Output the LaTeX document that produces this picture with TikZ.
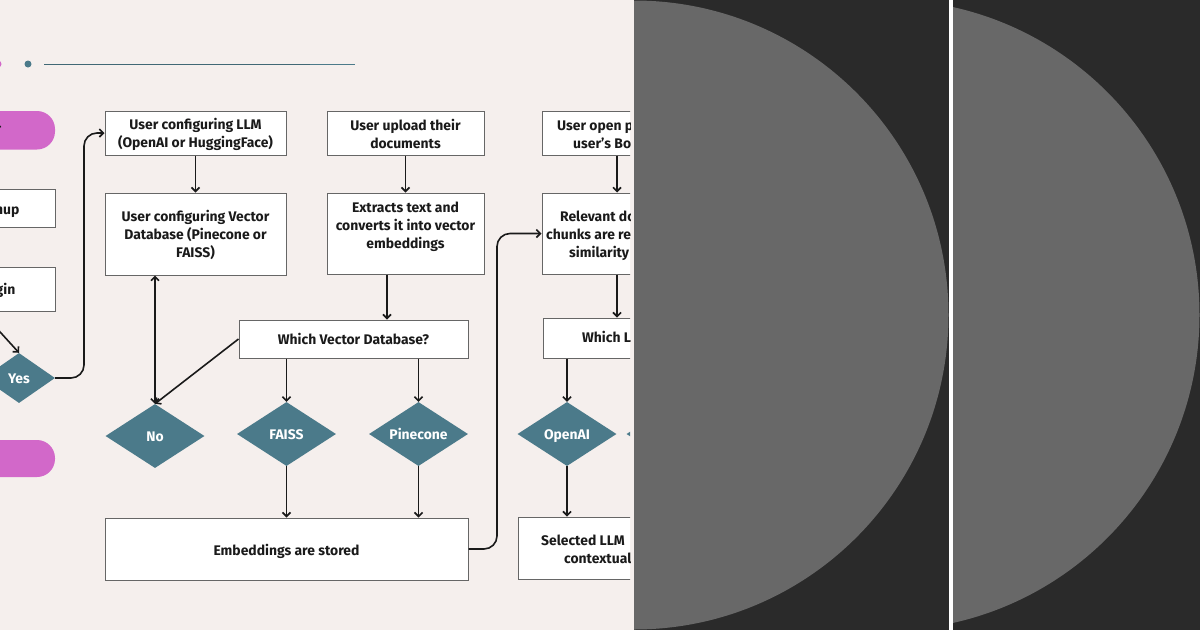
\documentclass[tikz,border=0pt]{standalone}
\usepackage{fontspec}
\setmainfont{Fira Sans}
\usetikzlibrary{arrows.meta,shapes.geometric}
\definecolor{paper}{HTML}{F5EFED}
\definecolor{tealbox}{HTML}{4B7A8A}
\definecolor{pinkbox}{HTML}{D268C9}
\definecolor{panel}{HTML}{2A2A2A}
\definecolor{disc}{HTML}{686868}
\definecolor{ink}{HTML}{1A1A1A}
\tikzset{
	flowbox/.style={draw=black!60,fill=white,line width=1pt,inner sep=0pt,align=center,text=ink,font=\fontsize{13.9}{18}\selectfont\bfseries},
	flowtext/.style={inner sep=0pt,anchor=base west,text=ink,align=center,font=\fontsize{13.9}{18}\selectfont\bfseries},
	choice/.style={diamond,fill=tealbox,text=white,inner sep=0pt,shape aspect=1.55,minimum width=99pt,minimum height=64pt,text height=11.2pt,text depth=0pt,font=\fontsize{13.9}{18}\selectfont\bfseries},
	pill/.style={fill=pinkbox,rounded corners=18pt},
	flow/.style={draw=ink,line width=1.6pt,-{Straight Barb[length=4pt,width=8pt]}},
}

\begin{document}
\begin{tikzpicture}[x=1pt,y=-1pt]
		%%%%% BACKGROUND %%%%%
		\useasboundingbox (0, 0) rectangle (1200, 630);
		\fill[paper] (0, 0) rectangle (634, 630);
		\fill[white] (634, 0) rectangle (1200, 630);
		\fill[panel] (634, 0) rectangle (949, 630);
		\fill[panel] (953, 0) rectangle (1200, 630);
		\begin{scope}
			\clip (634, 0) rectangle (949, 630);
			\fill[disc] (634, 315) circle [radius=314.5];
		\end{scope}
		\begin{scope}
			\clip (953, 0) rectangle (1200, 630);
			\fill[disc] (884, 315) circle [radius=315.5];
		\end{scope}

		\begin{scope}
		\clip (0, 0) rectangle (630, 630);
		%%%%% HEADER %%%%%
		\fill[pinkbox] (-2, 64) circle (3.5);
		\fill[tealbox] (28, 64) circle (3.5);
		\draw[tealbox,line width=1pt] (44, 64.5) -- (355, 64.5);
		\draw[tealbox!85!black,line width=1.6pt] (44, 64.5) -- (310, 64.5);

		%%%%% LEFT COLUMN %%%%%
		\fill[pill] (-100, 111) rectangle (55, 149.5);
		\fill[pill] (-100, 440) rectangle (55, 477);
		\node[flowtext] (pilltxt) at (-4, 131) {-};
		\node[flowbox,minimum width=155pt,minimum height=38pt] (signup) at (-22.5, 208.5) {};
		\node[flowbox,minimum width=155pt,minimum height=44pt] (login) at (-22.5, 289) {};
		\node[flowtext,anchor=base east] (signuptxt) at (19.5, 214) {nup};
		\node[flowtext,anchor=base east] (logintxt) at (15.5, 294) {gin};
		\node[choice,minimum width=72pt,minimum height=50pt] (yes) at (19, 378) {Yes};
		\coordinate (intoyes) at (-19, 311);
		\coordinate (yesjog) at (84, 300);

		%%%%% MIDDLE BOXES %%%%%
		\node[flowbox,minimum width=181pt,minimum height=44pt] (llm) at (195.5, 133) {};
		\node[flowtext,anchor=center] (llmtxt) at (195.5, 134.7) {User configuring LLM\\(OpenAI or HuggingFace)};
		\node[flowbox,minimum width=181pt,minimum height=82pt] (vecdb) at (195.5, 234) {};
		\node[flowtext,anchor=center] (vecdbtxt) at (195.5, 234.8) {User configuring Vector\\Database (Pinecone or\\FAISS)};
		\node[flowbox,minimum width=157pt,minimum height=44pt] (upload) at (405.5, 133) {};
		\node[flowtext,anchor=center] (uploadtxt) at (405.5, 133.8) {User upload their\\documents};
		\node[flowbox,minimum width=157pt,minimum height=81pt] (extract) at (405.5, 233.5) {};
		\node[flowtext,anchor=center] (extracttxt) at (405.5, 226.3) {Extracts text and\\converts it into vector\\embeddings};
		\node[flowbox,minimum width=229pt,minimum height=38pt] (whichvec) at (353.5, 339) {Which Vector Database?};
		\node[choice] (nochoice) at (155, 436) {No};
		\node[choice] (faiss) at (286.5, 434) {FAISS};
		\node[choice] (pinecone) at (418.5, 434) {Pinecone};
		\node[flowbox,minimum width=363pt,minimum height=62pt] (stored) at (286.5, 549) {};
		\node[flowtext,anchor=base] (storedtxt) at (286.5, 555.2) {Embeddings are stored};
		\coordinate (dropvec) at (387, 300);
		\coordinate (storedjog) at (497, 400);

		%%%%% RIGHT BOXES %%%%%
		\node[flowbox,minimum width=150pt,minimum height=44pt] (openbot) at (617, 133) {};
		\node[flowbox,minimum width=150pt,minimum height=81pt] (relevant) at (617, 233.5) {};
		\node[flowbox,minimum width=148pt,minimum height=40pt] (whichllm) at (617, 338) {};
		\node[choice] (openai) at (567, 434) {OpenAI};
		\node[choice] (nextllm) at (676, 434) {};
		\node[flowbox,minimum width=198pt,minimum height=62pt] (selected) at (617, 548) {};
		\node[flowtext] (opena) at (557, 130) {User open p};
		\node[flowtext] (openb) at (573, 148) {user’s Bo};
		\node[flowtext] (relevanta) at (560, 221.5) {Relevant do};
		\node[flowtext] (relevantb) at (546, 239.5) {chunks are re};
		\node[flowtext] (relevantc) at (569, 257.5) {similarity};
		\node[flowtext] (whichtxt) at (582, 342.5) {Which L};
		\node[flowtext] (selecteda) at (541, 545) {Selected LLM};
		\node[flowtext] (selectedb) at (564, 563) {contextual};

		%%%%% ARROWS %%%%%
		\draw[flow] (intoyes) -- (yes.north);
		\draw[flow,rounded corners=13pt] (yes.east) -- (yes.east -| yesjog) -- (llm.west -| yesjog) -- (llm.west);
		\draw[flow] (llm) -- (vecdb);
		\draw[flow] (upload) -- (extract);
		\draw[flow] (extract.south -| dropvec) -- (whichvec.north -| dropvec);
		\draw[flow] (whichvec.west) -- (nochoice.north);
		\draw[flow,{Straight Barb[length=4pt,width=8pt]}-{Straight Barb[length=4pt,width=8pt]}] (vecdb.south -| nochoice) -- (nochoice.north);
		\draw[flow] (whichvec.south -| faiss) -- (faiss.north);
		\draw[flow] (whichvec.south -| pinecone) -- (pinecone.north);
		\draw[flow] (faiss.south) -- (stored.north -| faiss);
		\draw[flow] (pinecone.south) -- (stored.north -| pinecone);
		\draw[flow,rounded corners=13pt] (stored.east) -- (stored.east -| storedjog) -- (relevant.west -| storedjog) -- (relevant.west);
		\draw[flow] (openbot) -- (relevant);
		\draw[flow] (relevant) -- (whichllm);
		\draw[flow] (whichllm.south -| openai) -- (openai.north);
		\draw[flow] (openai.south) -- (selected.north -| openai);
		\end{scope}
	\end{tikzpicture}
\end{document}
